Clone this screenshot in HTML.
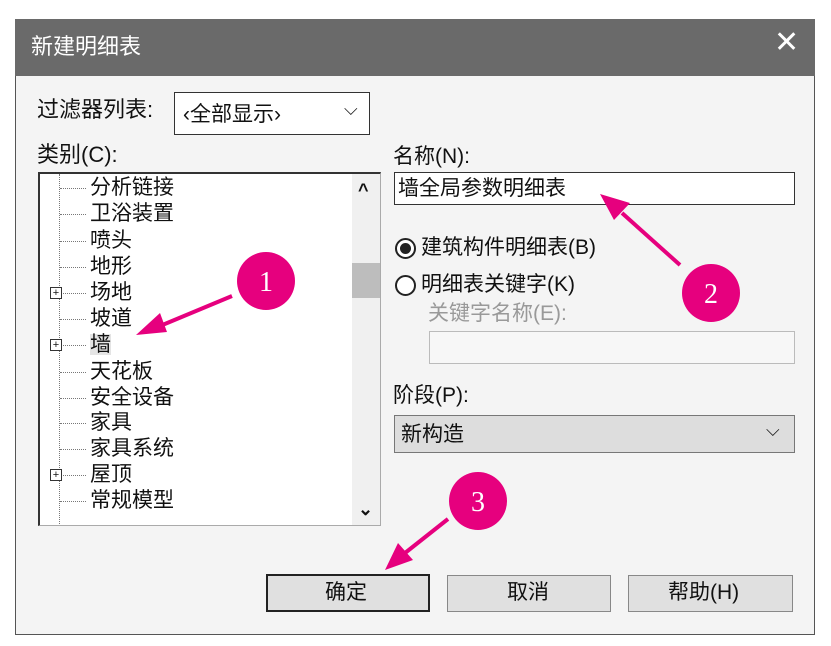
<!DOCTYPE html>
<html><head><meta charset="utf-8"><style>
body{margin:0;width:831px;height:646px;background:#fff;position:relative;overflow:hidden;font-family:"Liberation Sans","Noto Sans CJK SC",sans-serif;color:#111}
.a{position:absolute}
.t{font-size:21px;line-height:1}
.item{position:absolute;left:90px;font-size:21px;line-height:1}
.h{position:absolute;left:60px;width:26px;border-top:1px dotted #777}
</style></head><body>
<div class="a" style="left:15px;top:19px;width:798px;height:614px;background:#f4f4f4;border:1px solid #555"></div>
<div class="a" style="left:15px;top:19px;width:800px;height:57px;background:#6a6a6a"></div>
<div class="a t" style="left:31px;top:36px;color:#fff;font-size:22px">新建明细表</div>
<div class="a" style="left:774px;top:28px;color:#fff;font-size:30px;line-height:1">✕</div>
<div class="a t" style="left:37px;top:99px;font-size:22px">过滤器列表:</div>
<div class="a" style="left:174px;top:92px;width:194px;height:41px;background:#fff;border:1px solid #333"></div>
<div class="a t" style="left:183px;top:104px">‹全部显示›</div>
<div class="a t" style="left:344px;top:100px;font-size:18px">⌵</div>
<div class="a t" style="left:37px;top:144px;font-size:22px">类别(C):</div>
<div class="a" style="left:38px;top:172px;width:340px;height:351px;background:#fff;border:2px solid #333;border-bottom:1px solid #aaa;border-right:1px solid #aaa;overflow:hidden">
<div class="a" style="left:19px;top:0;height:360px;border-left:1px dotted #777"></div>
<div class="a" style="left:312px;top:0;width:28px;height:351px;background:#f0f0f0"></div>
<div class="a" style="left:312px;top:89px;width:28px;height:35px;background:#bdbdbd"></div>
<div class="a" style="left:318px;top:6px;font-size:18px;font-weight:bold">^</div>
<div class="a" style="left:318px;top:325px;font-size:18px;font-weight:bold">⌄</div>
</div>
<div class="h" style="top:188px"></div><div class="h" style="top:214px"></div><div class="h" style="top:241px"></div><div class="h" style="top:267px"></div><div class="h" style="top:293px"></div><div class="h" style="top:319px"></div><div class="h" style="top:345px"></div><div class="h" style="top:372px"></div><div class="h" style="top:398px"></div><div class="h" style="top:423px"></div><div class="h" style="top:449px"></div><div class="h" style="top:475px"></div><div class="h" style="top:501px"></div>
<div class="item" style="top:177px">分析链接</div>
<div class="item" style="top:203px">卫浴装置</div>
<div class="item" style="top:230px">喷头</div>
<div class="item" style="top:256px">地形</div>
<div class="item" style="top:282px">场地</div>
<div class="item" style="top:308px">坡道</div>
<div class="item" style="top:334px;background:#e4e4e4">墙</div>
<div class="item" style="top:361px">天花板</div>
<div class="item" style="top:387px">安全设备</div>
<div class="item" style="top:412px">家具</div>
<div class="item" style="top:438px">家具系统</div>
<div class="item" style="top:464px">屋顶</div>
<div class="item" style="top:490px">常规模型</div>
<div class="a" style="left:50px;top:287px;width:10px;height:10px;border:1px solid #333;background:#fff;font-size:11px;line-height:10px;text-align:center">+</div>
<div class="a" style="left:50px;top:339px;width:10px;height:10px;border:1px solid #333;background:#fff;font-size:11px;line-height:10px;text-align:center">+</div>
<div class="a" style="left:50px;top:469px;width:10px;height:10px;border:1px solid #333;background:#fff;font-size:11px;line-height:10px;text-align:center">+</div>
<div class="a t" style="left:393px;top:146px">名称(N):</div>
<div class="a" style="left:394px;top:172px;width:399px;height:31px;background:#fff;border:1px solid #333"></div>
<div class="a t" style="left:398px;top:178px">墙全局参数明细表</div>
<div class="a" style="left:395px;top:238px;width:17px;height:17px;border:2px solid #222;border-radius:50%;background:#fff"></div>
<div class="a" style="left:400px;top:243px;width:11px;height:11px;border-radius:50%;background:#222"></div>
<div class="a t" style="left:421px;top:237px">建筑构件明细表(B)</div>
<div class="a" style="left:395px;top:275px;width:17px;height:17px;border:2px solid #222;border-radius:50%;background:#fff"></div>
<div class="a t" style="left:421px;top:274px">明细表关键字(K)</div>
<div class="a t" style="left:428px;top:303px;color:#999">关键字名称(E):</div>
<div class="a" style="left:429px;top:331px;width:364px;height:31px;background:#f7f7f7;border:1px solid #bbb"></div>
<div class="a t" style="left:393px;top:385px">阶段(P):</div>
<div class="a" style="left:394px;top:415px;width:399px;height:36px;background:#ddd;border:1px solid #777"></div>
<div class="a t" style="left:401px;top:424px">新构造</div>
<div class="a t" style="left:766px;top:421px;font-size:18px">⌵</div>
<div class="a" style="left:266px;top:574px;width:160px;height:34px;background:#e0e0e0;border:2px solid #222"></div>
<div class="a t" style="left:325px;top:582px">确定</div>
<div class="a" style="left:447px;top:575px;width:162px;height:35px;background:#e0e0e0;border:1px solid #888"></div>
<div class="a t" style="left:507px;top:582px">取消</div>
<div class="a" style="left:628px;top:575px;width:163px;height:35px;background:#e0e0e0;border:1px solid #888"></div>
<div class="a t" style="left:668px;top:582px">帮助(H)</div>
<svg class="a" style="left:0;top:0" width="831" height="646">
<g stroke="#e6007e" stroke-width="4" fill="none">
<line x1="232" y1="296" x2="160" y2="326"/>
<line x1="680" y1="265" x2="622" y2="213"/>
<line x1="448" y1="519" x2="405" y2="553"/>
</g>
<g fill="#e6007e">
<polygon points="136,335 160,313 167,332"/>
<polygon points="600,194 630,203 614,220"/>
<polygon points="385,570 398,543 413,560"/>
<circle cx="266" cy="281" r="29"/><circle cx="711" cy="293" r="29"/><circle cx="478" cy="501" r="29"/></g>
<g fill="#fff" font-family="Liberation Serif,serif" font-size="28" text-anchor="middle"><text x="266" y="291">1</text><text x="711" y="303">2</text><text x="478" y="511">3</text></g>
</svg>
</body></html>
